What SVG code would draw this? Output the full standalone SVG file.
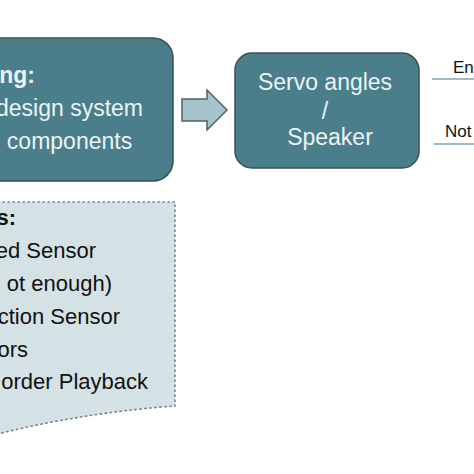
<svg xmlns="http://www.w3.org/2000/svg" width="474" height="474" viewBox="0 0 474 474">
<style>
.box{fill:#4a7e8b;stroke:#3b4f55;stroke-width:1.5}
.wt{font-family:"Liberation Sans",Arial,sans-serif;font-size:23px;fill:#eaf4f6}
.bt{font-family:"Liberation Sans",Arial,sans-serif;font-size:22px;fill:#111}
.st{font-family:"Liberation Sans",Arial,sans-serif;font-size:17px;fill:#111}
.b{font-weight:bold}
.ul{stroke:#7ea6b0;stroke-width:1.5;fill:none}
</style>
<rect width="474" height="474" fill="#fff"/>
<g id="design-box">
<rect class="box" x="-25" y="38" width="198" height="143" rx="20"/>
<text class="wt b" x="35" y="83" text-anchor="end">ng:</text>
<text class="wt" x="69.5" y="116" text-anchor="middle">design system</text>
<text class="wt" x="69.5" y="149" text-anchor="middle">components</text>
</g>
<g id="connectors">
<polygon points="182,99 207,99 207,90 227,110 207,130 207,121 182,121" fill="#a5c3ca" stroke="#4f6267" stroke-width="1.5" stroke-linejoin="miter"/>
</g>
<g id="servo-box">
<rect class="box" x="235" y="53" width="184" height="115" rx="17"/>
<text class="wt" x="325" y="90" text-anchor="middle">Servo angles</text>
<text class="wt" x="325" y="119" text-anchor="middle">/</text>
<text class="wt" x="330" y="145" text-anchor="middle">Speaker</text>
</g>
<g id="right-labels">
<text class="st" x="453" y="73">En</text>
<line class="ul" x1="432" y1="79" x2="474" y2="79"/>
<text class="st" x="445" y="137">Not</text>
<line class="ul" x1="434" y1="144" x2="474" y2="144"/>
</g>
<g id="callout">
<path d="M-2,202 L175,202 L175,406 C130,409 60,418 -2,434 Z" fill="#d4e2e6" stroke="#7a8287" stroke-width="1.6" stroke-dasharray="1.4 3.6" stroke-linecap="round"/>
<text class="bt b" x="16" y="225" text-anchor="end">s:</text>
<text class="bt" x="96" y="258" text-anchor="end">ed Sensor</text>
<text class="bt" x="112" y="291" text-anchor="end">ot enough)</text>
<text class="bt" x="120" y="324" text-anchor="end">ction Sensor</text>
<text class="bt" x="28" y="357" text-anchor="end">ors</text>
<text class="bt" x="148" y="389" text-anchor="end">order Playback</text>
</g>
</svg>
